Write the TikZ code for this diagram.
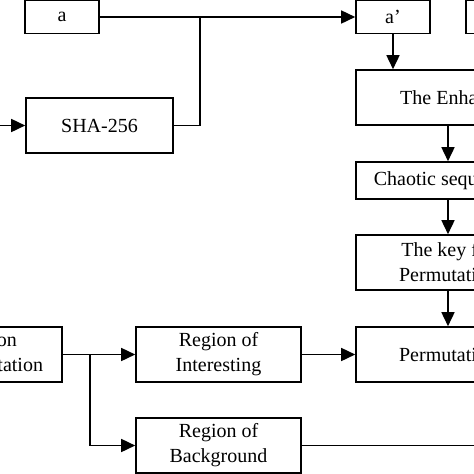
\documentclass[tikz,border=0pt]{standalone}
\usepackage{fontspec}
\setmainfont{Liberation Serif}
\usetikzlibrary{arrows.meta}
\tikzset{
  every node/.style={font=\fontsize{20}{25}\selectfont},
  blk/.style={draw, line width=1.6pt, inner sep=0pt, align=center},
  arr/.style={line width=1.6pt, -{Triangle[length=14pt,width=13pt]}},
  wire/.style={line width=1.6pt}
}
\begin{document}
\begin{tikzpicture}[x=1pt,y=-1pt]
    \useasboundingbox (0,0) rectangle (474,474);
    \clip (0,0) rectangle (474,474);
    % top row
    \node[blk, minimum width=74pt, minimum height=33pt] (a) at (62,17) {a};
    \node[blk, minimum width=74pt, minimum height=33pt] (ap) at (393,17) {a’};
    \node[blk, minimum width=74pt, minimum height=33pt] (nx) at (503,17) {};
    \node[blk, minimum width=147pt, minimum height=55pt] (sha) at (99.5,125.5) {SHA-256};
    % right column
    \node[blk, minimum width=184pt, minimum height=55pt] (enh) at (448,97.5) {};
    \node[anchor=west, inner sep=0pt] (enht) at (400,97.5) {The Enhanced};
    \node[blk, minimum width=184pt, minimum height=37pt] (chs) at (448,180.5) {Chaotic sequences};
    \node[blk, minimum width=184pt, minimum height=55pt] (key) at (448,262.5) {The key for\\Permutation};
    \node[blk, minimum width=184pt, minimum height=55pt] (perm) at (448,354.5) {Permutation};
    % bottom row
    \node[blk, minimum width=148pt, minimum height=55pt] (seg) at (-12,354.5) {Region\\Segmentation};
    \node[blk, minimum width=165pt, minimum height=55pt] (roi) at (218.5,354.5) {Region of\\Interesting};
    \node[blk, minimum width=165pt, minimum height=55pt] (rob) at (218.5,445.5) {Region of\\Background};
    \coordinate (in) at (-10,125.5);
    \coordinate (j1) at (200,17);
    \coordinate (j2) at (90,354.5);
    \coordinate (out) at (490,445.5);
    % connectors
    \draw[arr] (a) -- (ap);
    \draw[wire] (sha) -| (j1);
    \draw[arr] (in) -- (sha);
    \draw[arr] (ap) -- (ap |- enh.north);
    \draw[arr] (enh) -- (chs);
    \draw[arr] (chs) -- (key);
    \draw[arr] (key) -- (perm);
    \draw[arr] (seg) -- (roi);
    \draw[arr] (j2) |- (rob);
    \draw[arr] (roi) -- (perm);
    \draw[wire] (rob) -- (out);
\end{tikzpicture}
\end{document}
